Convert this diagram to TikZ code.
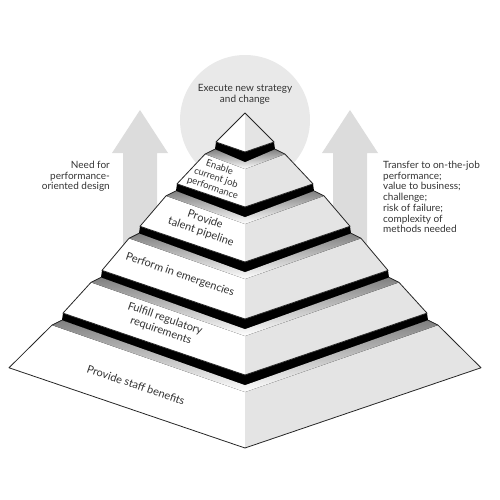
\documentclass[tikz,border=0pt]{standalone}
\usepackage{fontspec}
\setmainfont{Lato}

\definecolor{bubble}{HTML}{E9E9E9}
\definecolor{arrowgray}{HTML}{DCDCDC}
\definecolor{sideface}{HTML}{E4E4E4}
\definecolor{shade}{HTML}{C4C4C4}
\definecolor{ink}{HTML}{333333}

\begin{document}
\begin{tikzpicture}[
  x=1pt, y=-1pt,
  font=\fontsize{10}{10.7}\selectfont,
  txt/.style={text=ink, inner sep=0pt},
  lbl/.style={txt, align=center, rotate=-19, font=\fontsize{11}{13}\selectfont},
  edge/.style={draw=black!85, line width=0.8pt, line join=round}
]
\useasboundingbox (0,0) rectangle (500,500);
% backdrop: bubble and the two big arrows
\fill[bubble] (245,120) circle[radius=65];
\fill[arrowgray] (140,110) -- (168,153) -- (157,153) -- (157,300) -- (123,300) -- (123,153) -- (112,153) -- cycle;
\fill[arrowgray] (350,110) -- (378,153) -- (367,153) -- (367,300) -- (333,300) -- (333,153) -- (322,153) -- cycle;
% layers: front bottom y / half width, and the same for the layer above
\foreach \fb/\wb/\fn/\wn in {448/236/375/182, 375/182/319/143, 319/143/262/105, 262/105/207/68, 207/68/152/29} {
  \fill[white] ({245-\wb},{\fb-0.34*\wb}) -- (245,\fb) -- (245,{\fn+10})
    -- ({244-\wn},{\fn-0.34*\wn+7}) -- ({234-\wn},{\fn-0.34*\wn+12}) -- cycle;
  \fill[sideface] ({245+\wb},{\fb-0.34*\wb}) -- (245,\fb) -- (245,{\fn+10})
    -- ({246+\wn},{\fn-0.34*\wn+7}) -- ({256+\wn},{\fn-0.34*\wn+12}) -- cycle;
  % shadow strip under the top
  \fill[shade] ({234-\wn},{\fn-0.34*\wn+12}) -- (245,{\fn+17}) -- ({256+\wn},{\fn-0.34*\wn+12})
    -- ({246+\wn},{\fn-0.34*\wn+7}) -- (245,{\fn+10}) -- ({244-\wn},{\fn-0.34*\wn+7}) -- cycle;
  % top face
  \fill[black] ({244-\wn},{\fn-0.34*\wn+7}) -- (245,{\fn+10}) -- ({246+\wn},{\fn-0.34*\wn+7})
    -- ({245+\wn},{\fn-0.34*\wn}) -- (245,\fn) -- ({245-\wn},{\fn-0.34*\wn}) -- cycle;
  \draw[edge] ({244-\wn},{\fn-0.34*\wn+7}) -- ({234-\wn},{\fn-0.34*\wn+12}) -- ({245-\wb},{\fb-0.34*\wb})
    -- (245,\fb) -- ({245+\wb},{\fb-0.34*\wb}) -- ({256+\wn},{\fn-0.34*\wn+12}) -- ({246+\wn},{\fn-0.34*\wn+7});
}
% capstone
\fill[white] (245,113) -- (216,142) -- (245,152) -- cycle;
\fill[sideface] (245,113) -- (245,152) -- (274,142) -- cycle;
\draw[edge] (245,113) -- (216,142) -- (245,152) -- (274,142) -- cycle;

\node[txt, align=center] (strategy) at (245,94) {Execute new strategy\\and change};
\node[txt, align=right, anchor=north east] (need) at (110,161) {Need for\\performance-\\oriented design};
\node[txt, align=left, anchor=north west] (transfer) at (383,161) {Transfer to on-the-job\\performance;\\value to business;\\challenge;\\risk of failure;\\complexity of\\methods needed};

\node[lbl] (staff) at (136,385) {Provide staff benefits};
\node[lbl] (regul) at (163,325) {Fulfill regulatory\\requirements};
\node[lbl] (emerg) at (180,275) {Perform in emergencies};
\node[lbl] (talent) at (203,226) {Provide\\talent pipeline};
\node[lbl, font=\fontsize{9.5}{10.8}\selectfont] (enable) at (216,178) {Enable\\current job\\performance};
\end{tikzpicture}
\end{document}
